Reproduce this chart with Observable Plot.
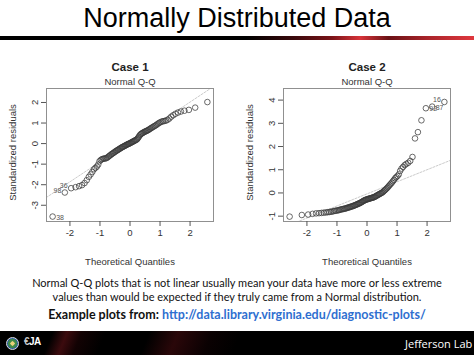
<!DOCTYPE html>
<html><head><meta charset="utf-8">
<script src="https://cdn.jsdelivr.net/npm/d3@7"></script>
<script src="https://cdn.jsdelivr.net/npm/@observablehq/plot@0.6"></script>
<style>
body{margin:0;width:474px;height:355px;overflow:hidden;background:#fff;position:relative;font-family:"Liberation Sans",Arial,sans-serif}
.abs{position:absolute;white-space:nowrap}
.rule{position:absolute;left:0;top:36px;width:474px;height:4px;background:linear-gradient(90deg,#000 0%,#000 52%,#3a0a0d 62%,#7a1418 70%,#d8343a 76%,#6a1216 82%,#a8242a 90%,#e0383e 100%)}
.footer{position:absolute;left:0;top:331px;width:474px;height:24px;background:linear-gradient(112deg,#000 0%,#000 11%,#3c0b0e 14%,#120203 17%,#000 22%,#000 31%,#2a0709 37%,#0a0102 44%,#000 50%,#000 100%)}
</style></head><body>
<script>
// ---- data ----
const theoreticalQuantiles = [-2.576,-2.170,-1.960,-1.812,-1.695,-1.598,-1.514,-1.440,-1.372,-1.311,-1.254,-1.200,-1.150,-1.103,-1.058,-1.015,-0.974,-0.935,-0.896,-0.860,-0.824,-0.789,-0.755,-0.722,-0.690,-0.659,-0.628,-0.598,-0.568,-0.539,-0.510,-0.482,-0.454,-0.426,-0.399,-0.372,-0.345,-0.319,-0.292,-0.266,-0.240,-0.215,-0.189,-0.164,-0.138,-0.113,-0.088,-0.063,-0.038,-0.013,
  0.013,0.038,0.063,0.088,0.113,0.138,0.164,0.189,0.215,0.240,0.266,0.292,0.319,0.345,0.372,0.399,0.426,0.454,0.482,0.510,0.539,0.568,0.598,0.628,0.659,0.690,0.722,0.755,0.789,0.824,0.860,0.896,0.935,0.974,1.015,1.058,1.103,1.150,1.200,1.254,1.311,1.372,1.440,1.514,1.598,1.695,1.812,1.960,2.170,2.576];
const case1Residuals = [-3.55,-2.38,-2.17,-2.12,-2.07,-2.02,-1.92,-1.78,-1.62,-1.50,-1.38,-1.25,-1.18,-1.12,-1.02,-0.86,-0.80,-0.76,-0.74,-0.73,-0.72,-0.71,-0.68,-0.64,-0.60,-0.57,-0.53,-0.50,-0.47,-0.44,-0.41,-0.38,-0.35,-0.33,-0.30,-0.28,-0.25,-0.23,-0.20,-0.18,-0.16,-0.14,-0.12,-0.10,-0.08,-0.06,-0.04,-0.02,-0.01,0.01,
  0.03,0.05,0.07,0.09,0.11,0.13,0.15,0.17,0.19,0.22,0.27,0.33,0.39,0.44,0.47,0.50,0.52,0.55,0.57,0.59,0.61,0.63,0.65,0.68,0.71,0.74,0.77,0.80,0.83,0.86,0.89,0.93,0.97,1.01,1.04,1.07,1.09,1.10,1.12,1.16,1.22,1.31,1.38,1.45,1.51,1.56,1.60,1.64,1.75,2.02];
const case2Residuals = [-1.02,-0.95,-0.93,-0.90,-0.88,-0.87,-0.86,-0.85,-0.84,-0.83,-0.82,-0.81,-0.80,-0.78,-0.77,-0.76,-0.75,-0.74,-0.72,-0.71,-0.70,-0.69,-0.68,-0.67,-0.66,-0.64,-0.63,-0.62,-0.61,-0.59,-0.58,-0.57,-0.56,-0.54,-0.53,-0.51,-0.50,-0.48,-0.47,-0.45,-0.44,-0.42,-0.40,-0.38,-0.36,-0.34,-0.32,-0.31,-0.29,-0.28,
  -0.27,-0.26,-0.25,-0.24,-0.23,-0.22,-0.21,-0.20,-0.19,-0.18,-0.16,-0.14,-0.12,-0.10,-0.08,-0.06,-0.04,-0.02,0.00,0.02,0.05,0.09,0.12,0.16,0.20,0.24,0.29,0.34,0.39,0.44,0.50,0.56,0.63,0.68,0.73,0.80,0.95,1.05,1.12,1.20,1.25,1.30,1.38,1.55,2.35,2.62,3.13,3.65,3.72,3.92];
const case1LabelIds = ["38","98","36"];
const case1LabelIndex = [0,1,2];
const case1LabelSide = ["right","left","left"];
const case2LabelIds = ["92","87","16"];
const case2LabelIndex = [97,98,99];
const case2LabelSide = ["right","right","left"];
const case1Line = {intercept:0.08, slope:0.97};
const case2Line = {intercept:-0.04, slope:0.52};
const xTicks = [-2,-1,0,1,2];
const case1YTicks = [-3,-2,-1,0,1,2];
const case2YTicks = [-1,0,1,2,3,4];
const case1YDomain = [-3.79,2.68];
const case2YDomain = [-1.23,4.50];
const xDomain = [-2.78,2.78];

function el(html, style){const d=document.createElement("div");d.className="abs";d.innerHTML=html;Object.assign(d.style,style);document.body.appendChild(d);return d;}

function panel(left, title, resid, yDomain, yTicks, line, ids, idx, side){
  const pts = theoreticalQuantiles.map((q,i)=>({q, r: resid[i]}));
  const lineData = xDomain.map(q=>({q, r: line.intercept + line.slope*q}));
  const labs = ids.map((id,k)=>({id, q: theoreticalQuantiles[idx[k]], r: resid[idx[k]], side: side[k]}));
  const fmt = d=>String(d);
  const chart = Plot.plot({
    width: 237, height: 210,
    marginLeft: 46, marginRight: 24, marginTop: 28, marginBottom: 49,
    style: {fontFamily: "Liberation Sans, Arial, sans-serif", color: "#333", background: "transparent"},
    x: {domain: xDomain},
    y: {domain: yDomain},
    marks: [
      Plot.line(lineData, {x:"q", y:"r", stroke:"#cccccc", strokeWidth:1, strokeDasharray:"2,1.5", clip:true}),
      Plot.frame({stroke:"#909090", strokeWidth:1}),
      Plot.axisX({ticks: xTicks, tickSize: 5, tickPadding: 3, fontSize: 9.5, label: null, tickFormat: fmt, stroke:"#555"}),
      Plot.axisY({ticks: yTicks, tickSize: 5, tickPadding: 4, fontSize: 9.5, label: null, tickRotate: -90, tickFormat: fmt, stroke:"#555"}),
      Plot.dot(pts, {x:"q", y:"r", r:2.8, stroke:"#3a3a3a", strokeWidth:0.75, fill:"none"}),
      Plot.text(labs.filter(d=>d.side==="right"), {x:"q", y:"r", text:"id", dx:3.5, dy:1, textAnchor:"start", fontSize:7, fill:"#555"}),
      Plot.text(labs.filter(d=>d.side==="left"), {x:"q", y:"r", text:"id", dx:-3.5, dy:-2, textAnchor:"end", fontSize:7, fill:"#555"})
    ]
  });
  const wrap = document.createElement("div");
  wrap.className="abs"; wrap.style.left=left+"px"; wrap.style.top="60px";
  wrap.appendChild(chart); document.body.appendChild(wrap);
  el(title,{left:(left+130-60)+"px",width:"120px",textAlign:"center",top:"61px",fontSize:"11.5px",fontWeight:"bold",color:"#222"});
  el("Normal Q-Q",{left:(left+130-60)+"px",width:"120px",textAlign:"center",top:"76px",fontSize:"9.5px",color:"#333"});
  el("Theoretical Quantiles",{left:(left+130-70)+"px",width:"140px",textAlign:"center",top:"256px",fontSize:"9.5px",color:"#333"});
  el("Standardized residuals",{left:(left+12-70)+"px",width:"140px",textAlign:"center",top:"147px",fontSize:"9.5px",color:"#333",transform:"rotate(-90deg)"});
}

el("Normally Distributed Data",{left:"0",width:"474px",textAlign:"center",top:"3px",fontSize:"27px",color:"#000"});
const r=document.createElement("div");r.className="rule";document.body.appendChild(r);

panel(0,"Case 1",case1Residuals,case1YDomain,case1YTicks,case1Line,case1LabelIds,case1LabelIndex,case1LabelSide);
panel(237,"Case 2",case2Residuals,case2YDomain,case2YTicks,case2Line,case2LabelIds,case2LabelIndex,case2LabelSide);

const body = {left:"0",width:"474px",textAlign:"center",fontSize:"11px",fontFamily:"Lato, 'Open Sans', sans-serif",color:"#111"};
el("Normal Q-Q plots that is not linear usually mean your data have more or less extreme",{...body,top:"276px"});
el("values than would be expected if they truly came from a Normal distribution.",{...body,top:"290px"});
el("<b>Example plots from:</b> <b style='color:#2f6fd0'>http://data.library.virginia.edu/diagnostic-plots/</b>",{...body,top:"307px",fontSize:"12.5px"});

const f=document.createElement("div");f.className="footer";document.body.appendChild(f);
el("",{left:"6px",top:"337px",width:"11px",height:"11px",borderRadius:"50%",background:"radial-gradient(circle,#e8d27a 0 25%,#3f8a4a 30% 55%,#2d5c9c 60%)",border:"1px solid #ddd"});
el("<span style='color:#c8c8c8'>€</span><span style='color:#fff'>JA</span>",{left:"24px",top:"336px",fontSize:"10px",fontWeight:"bold",letterSpacing:"-0.5px"});
el("Jefferson Lab",{left:"405px",top:"336px",fontSize:"11px",fontFamily:"'Open Sans', sans-serif",color:"#fff"});
</script>
</body></html>
